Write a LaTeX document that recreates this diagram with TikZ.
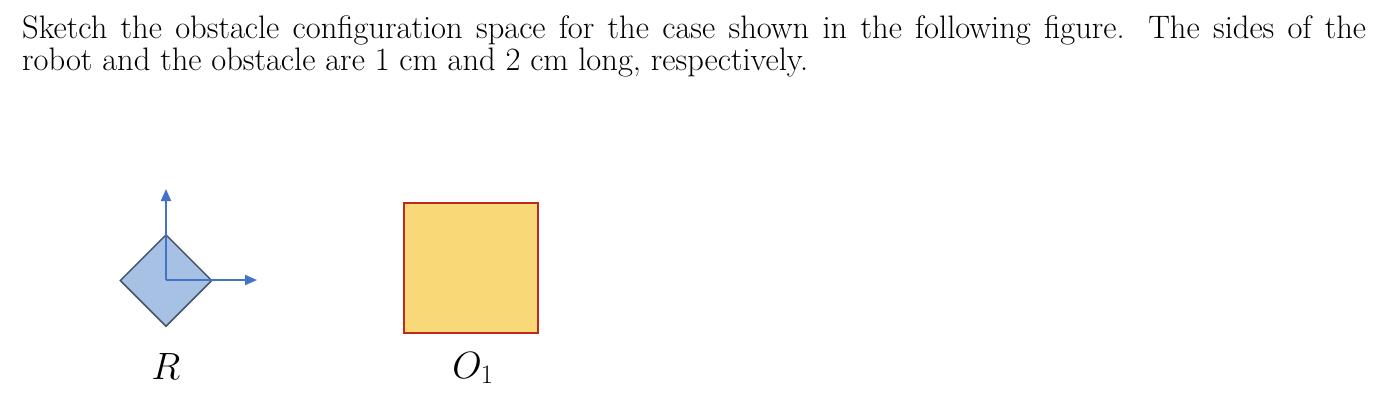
\documentclass[tikz,border=0pt]{standalone}
\usepackage{fix-cm}
\usepackage{fontspec}
\usetikzlibrary{arrows.meta,shapes.geometric}
\definecolor{robfill}{HTML}{A6C1E3}
\definecolor{robline}{HTML}{44546A}
\definecolor{axisblue}{HTML}{4472C4}
\definecolor{obsfill}{HTML}{F9D878}
\definecolor{obsline}{HTML}{BF2A1F}
\tikzset{
  bodytext/.style={inner sep=0pt, anchor=base west, font=\fontsize{32.5}{35}\selectfont},
  robotshape/.style={diamond, draw=robline, fill=robfill, line width=1.5pt, minimum width=92pt, minimum height=92pt, inner sep=0pt, aspect=1},
  obstacleshape/.style={rectangle, draw=obsline, fill=obsfill, line width=1.8pt, minimum width=134pt, minimum height=130pt, inner sep=0pt},
  axisarrow/.style={draw=axisblue, line width=2pt, -{Triangle[length=12pt,width=10pt]}},
  labeltext/.style={inner sep=0pt, anchor=base, font=\fontsize{38}{42}\selectfont},
}
\begin{document}
\begin{tikzpicture}[x=1pt,y=-1pt]
\useasboundingbox (0,0) rectangle (1396,418);
\node[bodytext] (line1) at (22,38) {\makebox[1344pt][s]{Sketch the obstacle configuration space for the case shown in the following figure.  The sides of the}};
\node[bodytext] (line2) at (22,70) {robot and the obstacle are 1 cm and 2 cm long, respectively.};
\node[robotshape] (rob) at (166,280.5) {};
\coordinate (org) at (166,280);
\coordinate (ytip) at (166,189);
\coordinate (xtip) at (257,280);
\draw[axisarrow] (org) -- (ytip);
\draw[axisarrow] (org) -- (xtip);
\node[obstacleshape] (obs) at (471,268) {};
\node[labeltext] (rlabel) at (166,379) {$R$};
\node[labeltext] (olabel) at (473,378) {$O_1$};
\end{tikzpicture}
\end{document}
